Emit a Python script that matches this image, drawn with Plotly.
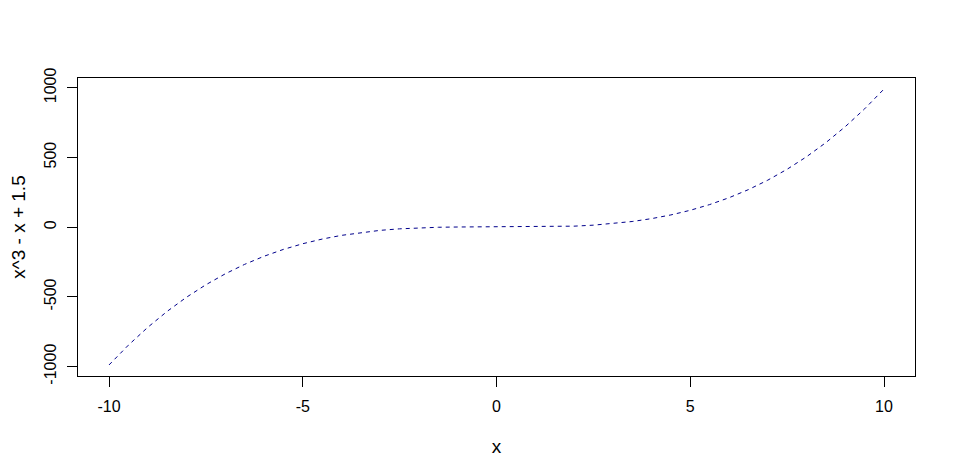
import plotly.graph_objects as go

# values, every half unit
x_vals = [-10, -9.5, -9, -8.5, -8, -7.5, -7, -6.5, -6, -5.5, -5, -4.5, -4, -3.5, -3,
          -2.5, -2, -1.5, -1, -0.5, 0, 0.5, 1, 1.5, 2, 2.5, 3, 3.5, 4, 4.5, 5,
          5.5, 6, 6.5, 7, 7.5, 8, 8.5, 9, 9.5, 10]
y_vals = [-988.5, -846.4, -718.5, -604.1, -502.5, -412.9, -334.5, -266.6, -208.5,
          -159.4, -118.5, -85.1, -58.5, -37.9, -22.5, -11.6, -4.5, -0.4, 1.5, 1.9,
          1.5, 1.1, 1.5, 3.4, 7.5, 14.6, 25.5, 40.9, 61.5, 88.1, 121.5, 162.4,
          211.5, 269.6, 337.5, 415.9, 505.5, 607.1, 721.5, 849.4, 991.5]

x_ticks = [-10, -5, 0, 5, 10]
x_labels = ["-10", "-5", "0", "5", "10"]
y_ticks = [-1000, -500, 0, 500, 1000]
y_labels = ["-1000", "-500", "0", "500", "1000"]

fig = go.Figure()
fig.add_trace(go.Scatter(x=x_vals, y=y_vals, mode="lines",
                         line=dict(color="#00008B", width=1, dash="4px,4px")))

font = dict(family="Liberation Sans, Arial, sans-serif", size=16, color="black")

# page puts the plot 8px in from the corner, so margins are trimmed by that
fig.update_layout(
    width=956, height=474,
    margin=dict(l=70, r=49, t=70, b=106),
    paper_bgcolor="white", plot_bgcolor="white",
    showlegend=False, font=font,
    xaxis=dict(range=[-10.8, 10.8], tickvals=x_ticks, ticktext=x_labels,
               ticks="outside", ticklen=10, automargin=False,
               tickcolor="black", showline=True, mirror=True, linecolor="black",
               linewidth=1, showgrid=False, zeroline=False, ticklabelstandoff=6,
               title=dict(text="x", standoff=25)),
    yaxis=dict(range=[-1067.7, 1070.7], tickvals=y_ticks, ticktext=y_labels,
               ticks="outside", ticklen=10, automargin=False,
               tickcolor="black", showline=True, mirror=True, linecolor="black",
               linewidth=1, showgrid=False, zeroline=False, tickangle=-90,
               ticklabelstandoff=5,
               title=dict(text="x^3 - x + 1.5", standoff=19)),
)

fig.write_html("out.html")
